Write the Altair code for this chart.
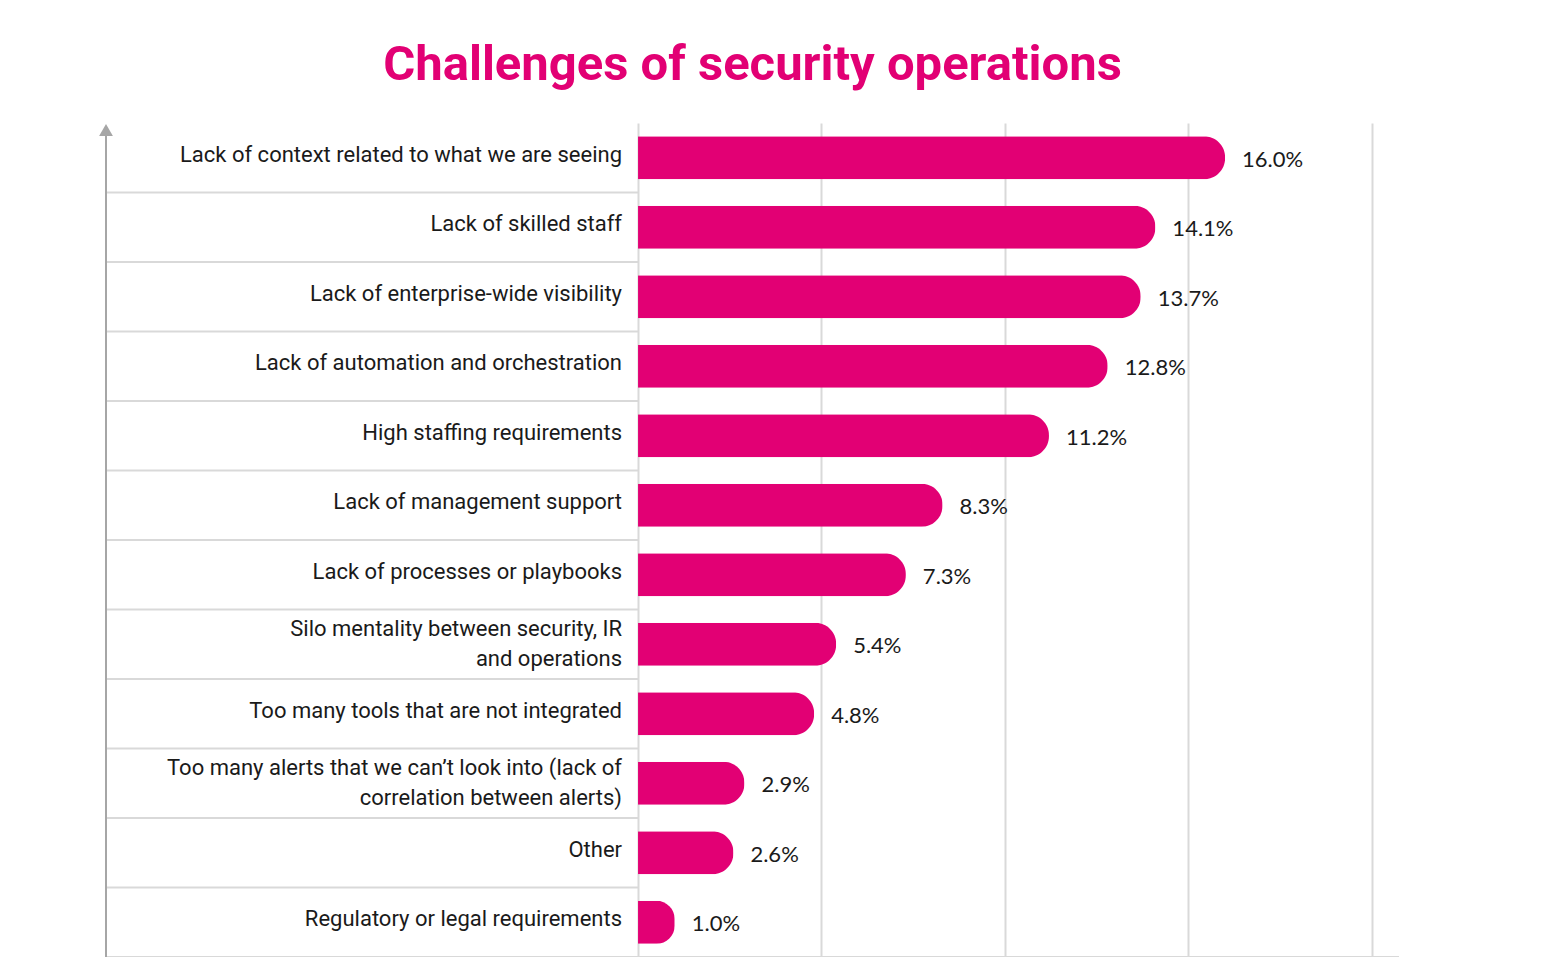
import altair as alt
import pandas as pd

categories = [
    "Lack of context related to what we are seeing",
    "Lack of skilled staff",
    "Lack of enterprise-wide visibility",
    "Lack of automation and orchestration",
    "High staffing requirements",
    "Lack of management support",
    "Lack of processes or playbooks",
    "Silo mentality between security, IR and operations",
    "Too many tools that are not integrated",
    "Too many alerts that we can’t look into (lack of correlation between alerts)",
    "Other",
    "Regulatory or legal requirements",
]
display_text = [
    "Lack of context related to what we are seeing",
    "Lack of skilled staff",
    "Lack of enterprise-wide visibility",
    "Lack of automation and orchestration",
    "High staffing requirements",
    "Lack of management support",
    "Lack of processes or playbooks",
    "Silo mentality between security, IR\nand operations",
    "Too many tools that are not integrated",
    "Too many alerts that we can’t look into (lack of\ncorrelation between alerts)",
    "Other",
    "Regulatory or legal requirements",
]
values = [16.0, 14.1, 13.7, 12.8, 11.2, 8.3, 7.3, 5.4, 4.8, 2.9, 2.6, 1.0]
grid_values = [0, 5, 10, 15, 20]

XMIN, XMAX = -14.5, 20.74
W, H = 1293, 834
MAGENTA = "#E20074"
GRID = "#d9d9d9"

df = pd.DataFrame({
    "category": categories,
    "text": display_text,
    "value": values,
    "label": [f"{v:.1f}%" for v in values],
    "x0": XMIN,
    "x1": 0.0,
})
df["nlines"] = df["text"].str.count("\n") + 1

xscale = alt.Scale(domain=[XMIN, XMAX], nice=False, zero=False)
yscale = alt.Scale(paddingInner=0, paddingOuter=0)


def yenc(**kw):
    return alt.Y("category:N", sort=categories, axis=None, scale=yscale, **kw)


base = alt.Chart(df)

bars = base.mark_bar(color=MAGENTA, height={"band": 0.62}, cornerRadiusEnd=21).encode(
    x=alt.X(
        "value:Q",
        scale=xscale,
        axis=alt.Axis(
            values=grid_values, grid=True, labels=False, ticks=False, domain=False,
            title=None, gridColor=GRID, gridWidth=2,
        ),
    ),
    y=yenc(),
)

value_text = base.mark_text(
    align="left", baseline="middle", dx=17, dy=2, font="Lato", fontSize=22, color="#1a1a1a"
).encode(x="value:Q", y=yenc(), text="label:N")

text_style = dict(
    align="right", baseline="middle", dx=-16, font="Roboto", fontSize=22,
    lineBreak="\n", lineHeight=30, color="#1a1a1a",
)
cat_text1 = base.transform_filter("datum.nlines == 1").mark_text(dy=-3, **text_style).encode(
    x="x1:Q", y=yenc(), text="text:N"
)
cat_text2 = base.transform_filter("datum.nlines == 2").mark_text(dy=-15, **text_style).encode(
    x="x1:Q", y=yenc(), text="text:N"
)

seps = alt.Chart(df.iloc[:-1]).mark_rule(color=GRID, strokeWidth=2).encode(
    x="x0:Q", x2="x1:Q", y=yenc(bandPosition=1)
)

one = alt.Chart(pd.DataFrame({"k": [0]}))
bottom_line = one.mark_rule(color=GRID, strokeWidth=2).encode(
    x=alt.value(0), x2=alt.value(W), y=alt.value(H)
)
axis_line = one.mark_rule(color="#a6a6a6", strokeWidth=2).encode(
    x=alt.value(0), y=alt.value(10), y2=alt.value(H)
)
arrow = one.mark_point(shape="triangle-up", filled=True, size=190, color="#a6a6a6", opacity=1).encode(
    x=alt.value(0), y=alt.value(7)
)

chart = alt.layer(
    seps, bottom_line, axis_line, arrow, bars, value_text, cat_text1, cat_text2
).properties(
    width=W,
    height=H,
    title=alt.TitleParams(
        "Challenges of security operations",
        font="Roboto",
        fontSize=49,
        fontWeight="bold",
        color=MAGENTA,
        anchor="middle",
        offset=33,
    ),
    autosize=alt.AutoSizeParams(type="none"),
    padding={"left": 98, "top": 115, "right": 143, "bottom": 2},
).configure_view(stroke=None)

chart.save("out.html", embed_options={"renderer": "svg", "actions": False})
